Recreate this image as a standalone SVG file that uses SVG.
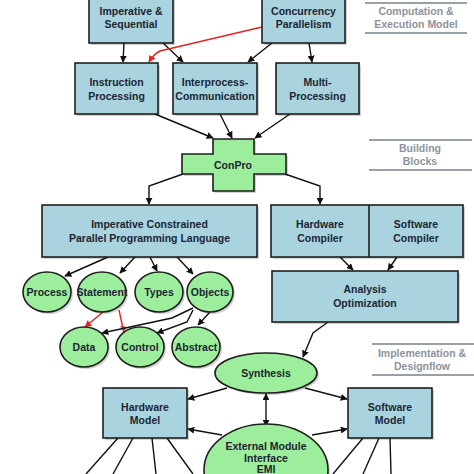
<svg xmlns="http://www.w3.org/2000/svg" width="474" height="474" viewBox="0 0 474 474">
<defs>
<style>
.box{fill:#a9d3df;stroke:#1e1e1e;stroke-width:1.6}
.grn{fill:#9cee9c;stroke:#1e1e1e;stroke-width:1.6}
.sh{fill:#000;opacity:0.18}
.t{font-family:"Liberation Sans",Arial,sans-serif;font-weight:bold;font-size:10.5px;fill:#1b2533;text-anchor:middle}
.lab{font-family:"Liberation Sans",Arial,sans-serif;font-weight:bold;font-size:10.5px;fill:#8d939c;text-anchor:middle}
.ln{stroke:#9aa0a8;stroke-width:2}
.c{fill:none;stroke:#111;stroke-width:1.4}
.r{fill:none;stroke:#e02424;stroke-width:1.4}
.p{fill:none;stroke:#111;stroke-width:1.4}
</style>
<marker id="ah" viewBox="0 0 10 10" refX="9" refY="5" markerWidth="7" markerHeight="7" orient="auto-start-reverse" markerUnits="userSpaceOnUse"><path d="M0,0 L10,5 L0,10 z" fill="#111"/></marker>
<marker id="ar" viewBox="0 0 10 10" refX="9" refY="5" markerWidth="7" markerHeight="7" orient="auto" markerUnits="userSpaceOnUse"><path d="M0,0 L10,5 L0,10 z" fill="#e02424"/></marker>
</defs>
<rect width="474" height="474" fill="#fff"/>

<g id="labels">
<line class="ln" x1="365" y1="3" x2="467" y2="3"/>
<text class="lab" x="416" y="15">Computation &amp;</text>
<text class="lab" x="416" y="28">Execution Model</text>
<line class="ln" x1="365" y1="33" x2="467" y2="33"/>
<line class="ln" x1="369" y1="140" x2="472" y2="140"/>
<text class="lab" x="420" y="152">Building</text>
<text class="lab" x="420" y="165">Blocks</text>
<line class="ln" x1="369" y1="170" x2="472" y2="170"/>
<line class="ln" x1="372" y1="344" x2="474" y2="344"/>
<text class="lab" x="422" y="357">Implementation &amp;</text>
<text class="lab" x="422" y="370">Designflow</text>
<line class="ln" x1="372" y1="375" x2="474" y2="375"/>
</g>

<g id="connectors">
<line class="c" x1="124" y1="43" x2="123" y2="62" marker-end="url(#ah)"/>
<line class="c" x1="163" y1="43" x2="183" y2="62" marker-end="url(#ah)"/>
<line class="c" x1="272" y1="43" x2="248" y2="62" marker-end="url(#ah)"/>
<line class="c" x1="309" y1="43" x2="312" y2="62" marker-end="url(#ah)"/>
<path class="r" d="M262,27 L160,51 Q154,54 149,62" marker-end="url(#ar)"/>
<line class="c" x1="155" y1="114" x2="213" y2="138" marker-end="url(#ah)"/>
<line class="c" x1="220" y1="114" x2="232" y2="138" marker-end="url(#ah)"/>
<line class="c" x1="290" y1="114" x2="255" y2="138" marker-end="url(#ah)"/>
<polyline class="c" points="183,174 149,186 149,204" marker-end="url(#ah)"/>
<polyline class="c" points="285,174 320,186 320,204" marker-end="url(#ah)"/>
<line class="c" x1="108" y1="257" x2="65" y2="276" marker-end="url(#ah)"/>
<line class="c" x1="135" y1="257" x2="120" y2="273" marker-end="url(#ah)"/>
<line class="c" x1="150" y1="257" x2="157" y2="271" marker-end="url(#ah)"/>
<line class="c" x1="177" y1="257" x2="193" y2="274" marker-end="url(#ah)"/>
<line class="r" x1="103" y1="312" x2="85" y2="327" marker-end="url(#ar)"/>
<line class="r" x1="119" y1="310" x2="124" y2="333"/>
<path d="M120,326 L127,327 L124,331 z" fill="#e02424"/>
<polyline class="c" points="193,308 172,318 102,333" marker-end="url(#ah)"/>
<polyline class="c" points="193,310 187,322 157,333" marker-end="url(#ah)"/>
<line class="c" x1="210" y1="312" x2="198" y2="325" marker-end="url(#ah)"/>
<line class="c" x1="340" y1="257" x2="353" y2="270" marker-end="url(#ah)"/>
<line class="c" x1="397" y1="257" x2="388" y2="270" marker-end="url(#ah)"/>
<polyline class="c" points="328,322 313,333 303,357" marker-end="url(#ah)"/>
<line class="c" x1="227" y1="388" x2="188" y2="399" marker-end="url(#ah)"/>
<line class="c" x1="305" y1="388" x2="347" y2="399" marker-end="url(#ah)"/>
<line class="c" x1="266" y1="394" x2="266" y2="426" marker-start="url(#ah)" marker-end="url(#ah)"/>
<line class="c" x1="222" y1="435" x2="188" y2="429" marker-end="url(#ah)"/>
<line class="c" x1="312" y1="435" x2="347" y2="429" marker-end="url(#ah)"/>
<line class="p" x1="118" y1="438" x2="86" y2="474"/>
<line class="p" x1="133" y1="438" x2="113" y2="474"/>
<line class="p" x1="152" y1="438" x2="156" y2="474"/>
<line class="p" x1="167" y1="438" x2="193" y2="474"/>
<line class="p" x1="363" y1="438" x2="333" y2="474"/>
<line class="p" x1="379" y1="438" x2="363" y2="474"/>
<line class="p" x1="390" y1="438" x2="391" y2="474"/>
</g>

<g id="imperative">
<rect class="sh" x="91" y="-3" width="84" height="48"/>
<rect class="box" x="89" y="-5" width="84" height="48"/>
<text class="t" x="131" y="15">Imperative &amp;</text>
<text class="t" x="131" y="28">Sequential</text>
</g>
<g id="concurrency">
<rect class="sh" x="264" y="-3" width="83" height="48"/>
<rect class="box" x="262" y="-5" width="83" height="48"/>
<text class="t" x="303.5" y="15">Concurrency</text>
<text class="t" x="303.5" y="28">Parallelism</text>
</g>
<g id="instruction">
<rect class="sh" x="77" y="65" width="83" height="51"/>
<rect class="box" x="75" y="63" width="83" height="51"/>
<text class="t" x="116.5" y="86">Instruction</text>
<text class="t" x="116.5" y="100">Processing</text>
</g>
<g id="interprocess">
<rect class="sh" x="175" y="65" width="84" height="51"/>
<rect class="box" x="173" y="63" width="84" height="51"/>
<text class="t" x="215" y="86">Interprocess-</text>
<text class="t" x="215" y="100">Communication</text>
</g>
<g id="multi">
<rect class="sh" x="278" y="65" width="83" height="51"/>
<rect class="box" x="276" y="63" width="83" height="51"/>
<text class="t" x="317.5" y="86">Multi-</text>
<text class="t" x="317.5" y="100">Processing</text>
</g>
<g id="conpro">
<path class="sh" d="M215,141 H256 V156 H288 V176 H256 V193 H215 V176 H184 V156 H215 Z"/>
<path class="grn" d="M213,139 H254 V154 H286 V174 H254 V191 H213 V174 H182 V154 H213 Z"/>
<text class="t" x="233" y="169">ConPro</text>
</g>
<g id="icppl">
<rect class="sh" x="44" y="207" width="215" height="52"/>
<rect class="box" x="42" y="205" width="215" height="52"/>
<text class="t" x="149.5" y="228">Imperative Constrained</text>
<text class="t" x="149.5" y="242">Parallel Programming Language</text>
</g>
<g id="compilers">
<rect class="sh" x="273" y="207" width="192" height="52"/>
<rect class="box" x="271" y="205" width="192" height="52"/>
<line x1="369" y1="205" x2="369" y2="257" stroke="#1e1e1e" stroke-width="1.6"/>
<text class="t" x="320" y="228">Hardware</text>
<text class="t" x="320" y="242">Compiler</text>
<text class="t" x="416" y="228">Software</text>
<text class="t" x="416" y="242">Compiler</text>
</g>
<g id="analysis">
<rect class="sh" x="274" y="273" width="186" height="51"/>
<rect class="box" x="272" y="271" width="186" height="51"/>
<text class="t" x="365" y="293">Analysis</text>
<text class="t" x="365" y="307">Optimization</text>
</g>
<g id="process"><ellipse class="sh" cx="49" cy="294" rx="24" ry="20"/><ellipse class="grn" cx="47" cy="292" rx="24" ry="20"/><text class="t" x="47" y="296">Process</text></g>
<g id="statement"><ellipse class="sh" cx="104" cy="294" rx="24" ry="20"/><ellipse class="grn" cx="102" cy="292" rx="24" ry="20"/><text class="t" x="102" y="296">Statement</text></g>
<g id="types"><ellipse class="sh" cx="161" cy="294" rx="24" ry="20"/><ellipse class="grn" cx="159" cy="292" rx="24" ry="20"/><text class="t" x="159" y="296">Types</text></g>
<g id="objects"><ellipse class="sh" cx="212" cy="294" rx="23" ry="20"/><ellipse class="grn" cx="210" cy="292" rx="23" ry="20"/><text class="t" x="210" y="296">Objects</text></g>
<g id="data"><ellipse class="sh" cx="86" cy="349" rx="24" ry="20"/><ellipse class="grn" cx="84" cy="347" rx="24" ry="20"/><text class="t" x="84" y="351">Data</text></g>
<g id="control"><ellipse class="sh" cx="142" cy="349" rx="24" ry="20"/><ellipse class="grn" cx="140" cy="347" rx="24" ry="20"/><text class="t" x="140" y="351">Control</text></g>
<g id="abstract"><ellipse class="sh" cx="198" cy="349" rx="24" ry="20"/><ellipse class="grn" cx="196" cy="347" rx="24" ry="20"/><text class="t" x="196" y="351">Abstract</text></g>
<g id="synthesis"><ellipse class="sh" cx="268" cy="375" rx="51" ry="20"/><ellipse class="grn" cx="266" cy="373" rx="51" ry="20"/><text class="t" x="266" y="377">Synthesis</text></g>
<g id="hwmodel">
<rect class="sh" x="105" y="390" width="84" height="50"/>
<rect class="box" x="103" y="388" width="84" height="50"/>
<text class="t" x="145" y="411">Hardware</text>
<text class="t" x="145" y="424">Model</text>
</g>
<g id="swmodel">
<rect class="sh" x="350" y="390" width="84" height="50"/>
<rect class="box" x="348" y="388" width="84" height="50"/>
<text class="t" x="390" y="411">Software</text>
<text class="t" x="390" y="424">Model</text>
</g>
<g id="emi">
<ellipse class="sh" cx="268" cy="472" rx="62" ry="46"/>
<ellipse class="grn" cx="266" cy="470" rx="62" ry="46"/>
<text class="t" x="266" y="450">External Module</text>
<text class="t" x="266" y="462">Interface</text>
<text class="t" x="266" y="473">EMI</text>
</g>
</svg>
